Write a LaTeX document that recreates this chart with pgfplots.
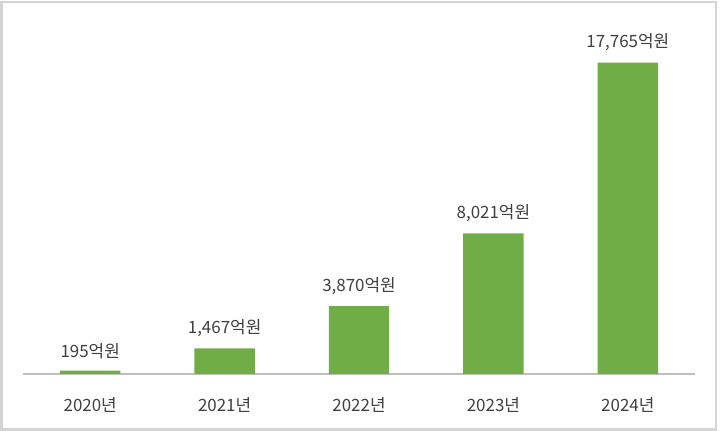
\documentclass[border=0pt]{standalone}
\usepackage{pgfplots}
\pgfplotsset{compat=1.18}
\usepackage{fontspec}
\setmainfont{Noto Sans CJK KR}
\definecolor{barg}{HTML}{70AD47}
\definecolor{txt}{HTML}{404040}
\definecolor{basel}{HTML}{BFBFBF}
\definecolor{frame}{HTML}{D4D4D4}
\begin{document}
\begin{tikzpicture}
\useasboundingbox (0,0) rectangle (720bp,431bp);
\fill[white] (0,0) rectangle (720bp,431bp);
\draw[frame, line width=2.5bp] (1.5bp,1.5bp) rectangle (716bp,429bp);
\begin{axis}[
  at={(23bp,57bp)}, anchor=south west,
  scale only axis, width=672bp, height=354bp,
  xmin=-0.5, xmax=4.5, ymin=0, ymax=20200,
  axis x line=bottom, axis y line=none,
  x axis line style={basel, line width=1.2bp, -},
  xtick=data, xticklabels={2020년,2021년,2022년,2023년,2024년},
  xtick style={draw=none},
  xticklabel style={font=\fontsize{17}{20}\selectfont, text=txt, yshift=-16bp},
  ybar, bar width=0.45,
  nodes near coords={\pgfmathprintnumber[1000 sep={,}]{\pgfplotspointmeta}억원},
  nodes near coords style={font=\fontsize{17}{20}\selectfont, text=txt, yshift=8bp},
  /pgf/number format/assume math mode=true,
]
\addplot[fill=barg, draw=none] coordinates {(0,195) (1,1467) (2,3870) (3,8021) (4,17765)};
\end{axis}
\end{tikzpicture}
\end{document}
